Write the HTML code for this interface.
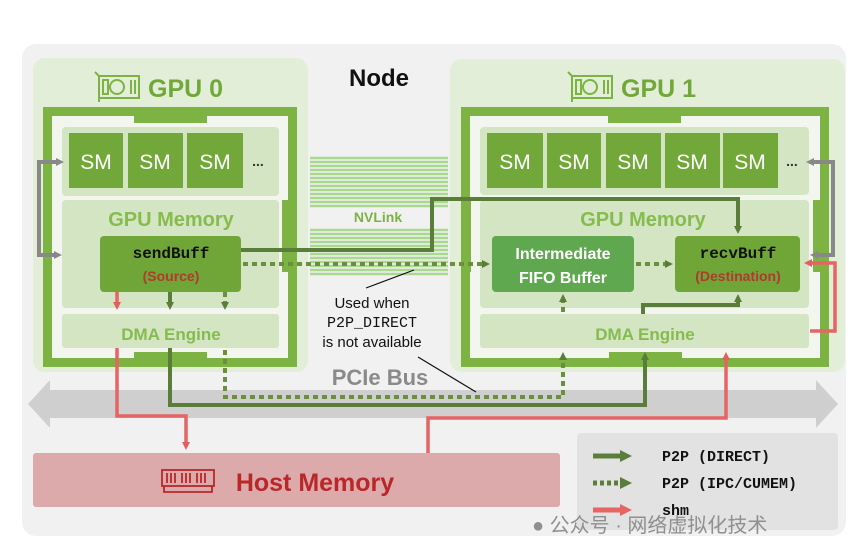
<!DOCTYPE html><html><head><style>body{margin:0;background:#fff}svg{display:block}</style></head><body>
<svg width="866" height="558" viewBox="0 0 866 558" xmlns="http://www.w3.org/2000/svg" font-family="Liberation Sans, sans-serif">
<defs>
<marker id="ad" markerWidth="8" markerHeight="8" refX="4" refY="4" orient="auto" markerUnits="userSpaceOnUse"><path d="M0,0L8,4L0,8z" fill="#5a7e3a"/></marker>
<marker id="ar" markerWidth="8" markerHeight="8" refX="4" refY="4" orient="auto" markerUnits="userSpaceOnUse"><path d="M0,0L8,4L0,8z" fill="#e06060"/></marker>
<marker id="ay" markerWidth="8" markerHeight="8" refX="4" refY="4" orient="auto" markerUnits="userSpaceOnUse"><path d="M0,0L8,4L0,8z" fill="#888"/></marker>
<marker id="al" markerWidth="12" markerHeight="12" refX="4" refY="6" orient="auto" markerUnits="userSpaceOnUse"><path d="M0,0L12,6L0,12z" fill="#5a7e3a"/></marker>
<marker id="alr" markerWidth="12" markerHeight="12" refX="4" refY="6" orient="auto" markerUnits="userSpaceOnUse"><path d="M0,0L12,6L0,12z" fill="#e66464"/></marker>
</defs>
<rect x="22" y="44" width="824" height="492" rx="14" fill="#f1f1f1"/>
<path d="M28,404 L50,380 L50,390 L816,390 L816,380 L838,404 L816,428 L816,418 L50,418 L50,428 Z" fill="#cfcfcf"/>
<text x="380" y="385" font-size="22" font-weight="bold" fill="#8a8a8a" text-anchor="middle">PCIe Bus</text>
<rect x="33" y="58" width="275" height="314" rx="12" fill="#e3eed9"/>
<rect x="450" y="59" width="395" height="313" rx="12" fill="#e3eed9"/>
<g stroke="#a9d98f" stroke-width="2.4">
<line x1="310" y1="158" x2="448" y2="158"/><line x1="310" y1="162" x2="448" y2="162"/><line x1="310" y1="166" x2="448" y2="166"/><line x1="310" y1="170" x2="448" y2="170"/><line x1="310" y1="174" x2="448" y2="174"/><line x1="310" y1="178" x2="448" y2="178"/><line x1="310" y1="182" x2="448" y2="182"/><line x1="310" y1="186" x2="448" y2="186"/><line x1="310" y1="190" x2="448" y2="190"/><line x1="310" y1="194" x2="448" y2="194"/><line x1="310" y1="198" x2="448" y2="198"/><line x1="310" y1="202" x2="448" y2="202"/><line x1="310" y1="206" x2="448" y2="206"/><line x1="310" y1="230" x2="448" y2="230"/><line x1="310" y1="234" x2="448" y2="234"/><line x1="310" y1="238" x2="448" y2="238"/><line x1="310" y1="242" x2="448" y2="242"/><line x1="310" y1="246" x2="448" y2="246"/><line x1="310" y1="250" x2="448" y2="250"/><line x1="310" y1="254" x2="448" y2="254"/><line x1="310" y1="258" x2="448" y2="258"/><line x1="310" y1="262" x2="448" y2="262"/><line x1="310" y1="266" x2="448" y2="266"/><line x1="310" y1="270" x2="448" y2="270"/><line x1="310" y1="274" x2="448" y2="274"/>
</g>
<text x="378" y="222" font-size="14" font-weight="bold" fill="#7cb342" text-anchor="middle">NVLink</text>
<text x="379" y="86" font-size="24" font-weight="bold" fill="#111" text-anchor="middle">Node</text>
<g>
<rect x="47.5" y="111.5" width="245" height="251" fill="#f3f6ef" stroke="#7cb342" stroke-width="9"/>
<rect x="134" y="115" width="73" height="8" fill="#7cb342"/><rect x="134" y="352" width="73" height="8" fill="#7cb342"/>
<rect x="282" y="200" width="8" height="72" fill="#7cb342"/>
<rect x="62" y="127" width="217" height="69" rx="4" fill="#d3e5c3"/>
<rect x="69" y="133" width="54" height="55" fill="#72a83a"/><rect x="128" y="133" width="55" height="55" fill="#72a83a"/><rect x="187" y="133" width="56" height="55" fill="#72a83a"/>
<g font-size="21" fill="#fff" text-anchor="middle"><text x="96" y="169">SM</text><text x="155" y="169">SM</text><text x="215" y="169">SM</text></g>
<text x="258" y="166" font-size="14" font-weight="bold" fill="#333" text-anchor="middle">...</text>
<rect x="62" y="200" width="217" height="108" rx="4" fill="#d3e5c3"/>
<text x="171" y="226" font-size="20" font-weight="bold" fill="#86bc4e" text-anchor="middle">GPU Memory</text>
<rect x="62" y="314" width="217" height="34" rx="3" fill="#d3e5c3"/>
<text x="171" y="340" font-size="17" font-weight="bold" fill="#86bc4e" text-anchor="middle">DMA Engine</text>
<rect x="100" y="236" width="141" height="56" rx="4" fill="#6fa637"/>
<text x="171" y="258" font-size="16" font-weight="bold" font-family="Liberation Mono, monospace" fill="#111" text-anchor="middle">sendBuff</text>
<text x="171" y="281" font-size="14" font-weight="bold" fill="#b03a2e" text-anchor="middle">(Source)</text>
<g transform="translate(95,72)" fill="none" stroke="#7cb342" stroke-width="2"><path d="M0,0 L4,4 L4,30"/><rect x="4" y="4" width="40" height="22"/><circle cx="22" cy="15" r="7"/><rect x="8" y="8" width="5" height="14"/><path d="M36,8v14M40,8v14"/></g>
<text x="148" y="97" font-size="25" font-weight="bold" fill="#72a83a">GPU 0</text>
</g>
<g>
<rect x="465.5" y="111.5" width="359" height="251" fill="#f3f6ef" stroke="#7cb342" stroke-width="9"/>
<rect x="608" y="115" width="73" height="8" fill="#7cb342"/><rect x="609" y="352" width="73" height="8" fill="#7cb342"/>
<rect x="463" y="200" width="8" height="72" fill="#7cb342"/><rect x="813" y="200" width="8" height="72" fill="#7cb342"/>
<rect x="480" y="127" width="329" height="68" rx="4" fill="#d3e5c3"/>
<rect x="487" y="133" width="56" height="55" fill="#72a83a"/><rect x="547" y="133" width="54" height="55" fill="#72a83a"/><rect x="606" y="133" width="55" height="55" fill="#72a83a"/><rect x="665" y="133" width="55" height="55" fill="#72a83a"/><rect x="723" y="133" width="55" height="55" fill="#72a83a"/>
<g font-size="21" fill="#fff" text-anchor="middle"><text x="515" y="169">SM</text><text x="574" y="169">SM</text><text x="633" y="169">SM</text><text x="692" y="169">SM</text><text x="750" y="169">SM</text></g>
<text x="792" y="166" font-size="14" font-weight="bold" fill="#333" text-anchor="middle">...</text>
<rect x="480" y="200" width="329" height="108" rx="4" fill="#d3e5c3"/>
<text x="643" y="226" font-size="20" font-weight="bold" fill="#86bc4e" text-anchor="middle">GPU Memory</text>
<rect x="480" y="314" width="329" height="34" rx="3" fill="#d3e5c3"/>
<text x="645" y="340" font-size="17" font-weight="bold" fill="#86bc4e" text-anchor="middle">DMA Engine</text>
<rect x="492" y="236" width="142" height="56" rx="4" fill="#5fa84f"/>
<text x="563" y="259" font-size="16" font-weight="bold" fill="#fff" text-anchor="middle">Intermediate</text>
<text x="563" y="283" font-size="16" font-weight="bold" fill="#fff" text-anchor="middle">FIFO Buffer</text>
<rect x="675" y="236" width="125" height="56" rx="4" fill="#6fa637"/>
<text x="738" y="258" font-size="16" font-weight="bold" font-family="Liberation Mono, monospace" fill="#111" text-anchor="middle">recvBuff</text>
<text x="738" y="281" font-size="14" font-weight="bold" fill="#b03a2e" text-anchor="middle">(Destination)</text>
<g transform="translate(568,72)" fill="none" stroke="#7cb342" stroke-width="2"><path d="M0,0 L4,4 L4,30"/><rect x="4" y="4" width="40" height="22"/><circle cx="22" cy="15" r="7"/><rect x="8" y="8" width="5" height="14"/><path d="M36,8v14M40,8v14"/></g>
<text x="621" y="97" font-size="25" font-weight="bold" fill="#72a83a">GPU 1</text>
</g>
<path d="M58,162 H39 V255 H58" fill="none" stroke="#888" stroke-width="4" marker-end="url(#ay)"/>
<path d="M56,162 H60" stroke="#888" stroke-width="4" marker-end="url(#ay)"/>
<path d="M812,162 H833 V255 H814" fill="none" stroke="#888" stroke-width="4" marker-end="url(#ay)"/>
<path d="M814,162 H810" stroke="#888" stroke-width="4" marker-end="url(#ay)"/>
<g fill="none" stroke="#5a7e3a" stroke-width="4">
<path d="M241,250 H432 V199 H738 V230" marker-end="url(#ad)"/>
<path d="M170,292 V306" marker-end="url(#ad)"/>
<path d="M170,348 V405 H645 V356" marker-end="url(#ad)"/>
<path d="M643,314 V305 H738 V298" marker-end="url(#ad)"/>
</g>
<g fill="none" stroke="#6b8f3e" stroke-width="4" stroke-dasharray="5,4">
<path d="M243,264 H486" marker-end="url(#ad)"/>
<path d="M636,264 H669" marker-end="url(#ad)"/>
<path d="M225,292 V306" marker-end="url(#ad)"/>
<path d="M225,350 V397 H563 V356" marker-end="url(#ad)"/>
<path d="M563,312 V298" marker-end="url(#ad)"/>
</g>
<g fill="none" stroke="#e66464" stroke-width="3.5">
<path d="M117,292 V306" marker-end="url(#ar)"/>
<path d="M117,348 V416 H186 V446" marker-end="url(#ar)"/>
<path d="M428,453 V418 H726 V356" marker-end="url(#ar)"/>
<path d="M810,331 H835 V263 H808" marker-end="url(#ar)"/>
</g>
<line x1="366" y1="288" x2="414" y2="270" stroke="#111" stroke-width="1.2"/>
<line x1="418" y1="357" x2="476" y2="392" stroke="#111" stroke-width="1.2"/>
<text x="372" y="308" font-size="15" fill="#111" text-anchor="middle">Used when</text>
<text x="372" y="327" font-size="15" fill="#111" font-family="Liberation Mono, monospace" text-anchor="middle">P2P_DIRECT</text>
<text x="372" y="347" font-size="15" fill="#111" text-anchor="middle">is not available</text>
<rect x="33" y="453" width="527" height="54" rx="3" fill="#dcaaaa"/>
<g transform="translate(162,470)" fill="none" stroke="#b8282a" stroke-width="1.8"><rect x="0" y="0" width="52" height="16"/><path d="M5,3v10M9,3v10M13,3v10M20,3v10M24,3v10M28,3v10M35,3v10M39,3v10M43,3v10M2,16v6h48v-6"/></g>
<text x="315" y="491" font-size="25" font-weight="bold" fill="#b8282a" text-anchor="middle">Host Memory</text>
<rect x="577" y="433" width="261" height="97" rx="4" fill="#e2e2e2"/>
<path d="M593,456 H624" stroke="#5a7e3a" stroke-width="5" marker-end="url(#al)"/>
<path d="M593,483 H624" stroke="#5a7e3a" stroke-width="5" stroke-dasharray="4,3" marker-end="url(#al)"/>
<path d="M593,510 H624" stroke="#e66464" stroke-width="5" marker-end="url(#alr)"/>
<g font-family="Liberation Mono, monospace" font-weight="bold" font-size="15" fill="#111">
<text x="662" y="461">P2P (DIRECT)</text><text x="662" y="488">P2P (IPC/CUMEM)</text><text x="662" y="515">shm</text>
</g>
<text x="532" y="532" font-size="20" fill="#8f8f8f" font-family="Liberation Sans, Noto Sans CJK SC, sans-serif">● 公众号 · 网络虚拟化技术</text>
</svg>
</body></html>
